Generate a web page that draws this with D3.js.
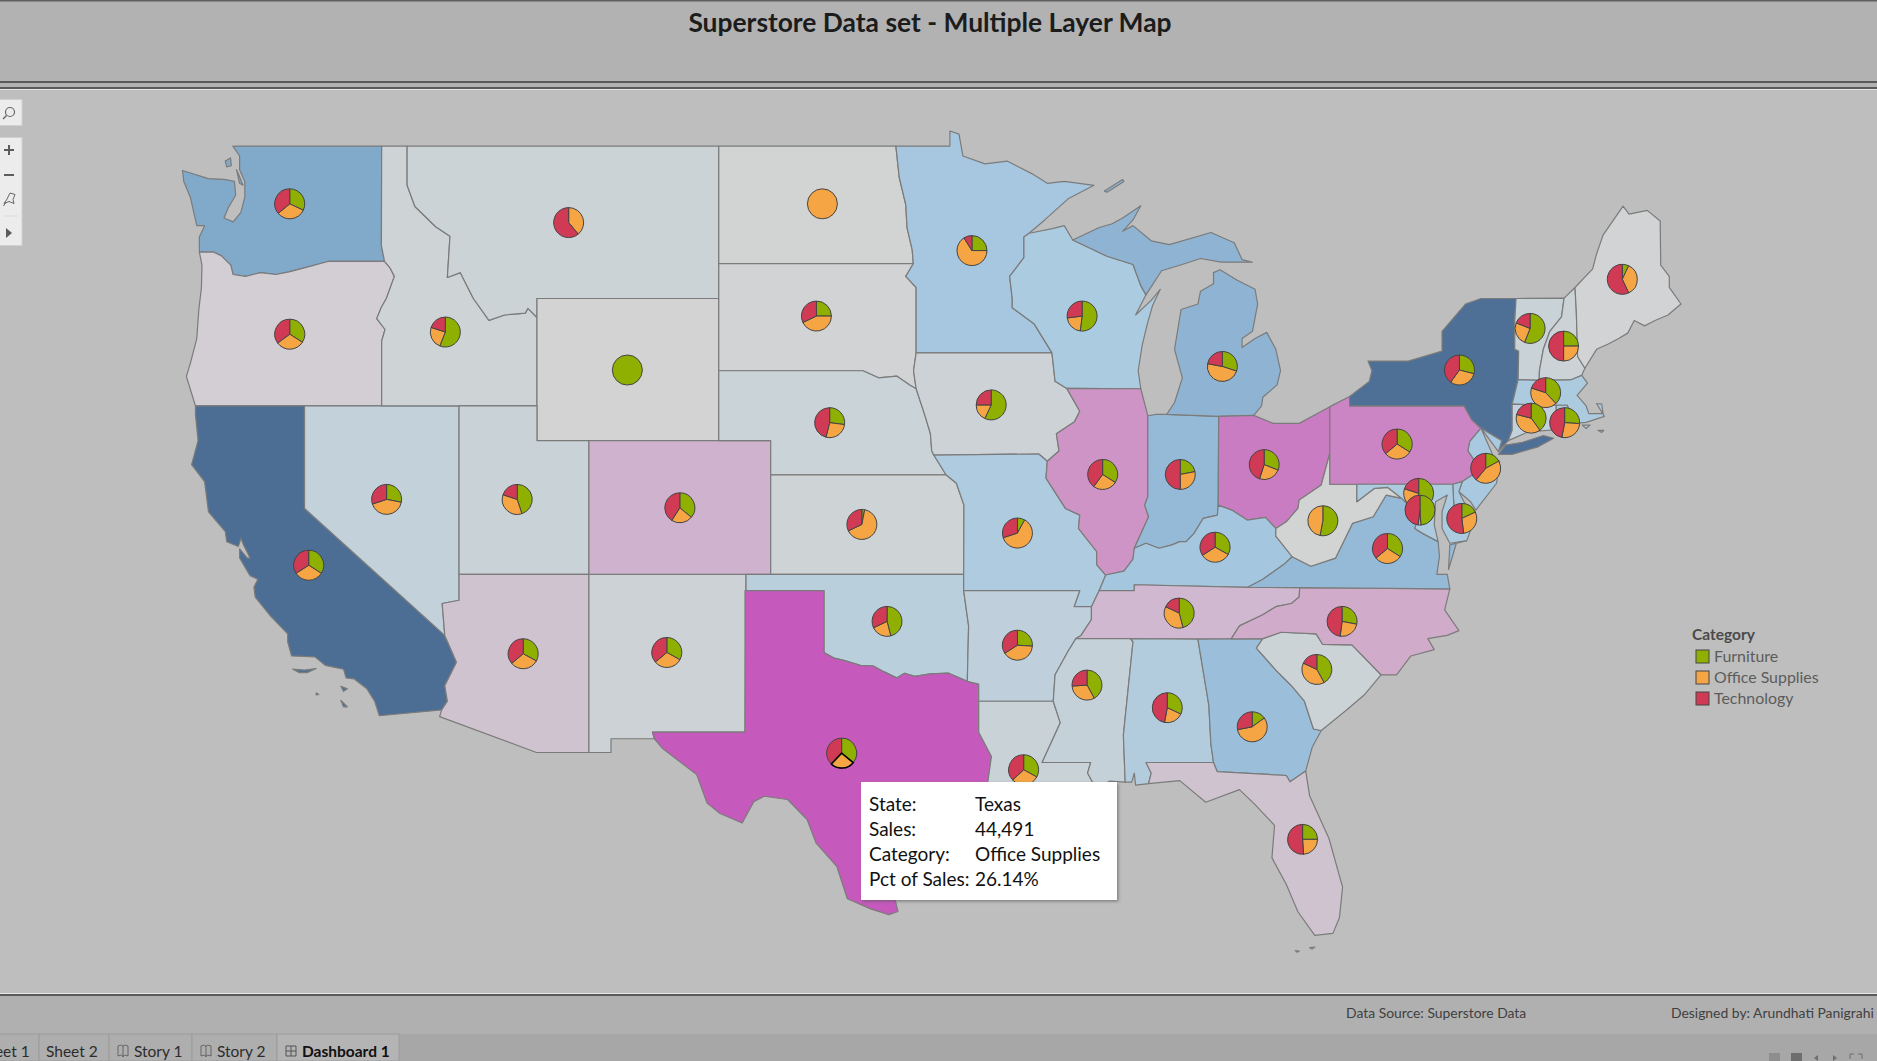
<!DOCTYPE html>
<html>
<head>
<meta charset="utf-8">
<title>Superstore Data set - Multiple Layer Map</title>
<script src="https://cdn.jsdelivr.net/npm/d3@7"></script>
<style>
  html, body { margin: 0; padding: 0; background: #bebebe; overflow: hidden; }
  text { font-family: Lato, "Open Sans", sans-serif; }
</style>
</head>
<body>
<svg id="chart" width="1877" height="1061"></svg>
<script>
const categories = ["Furniture", "Office Supplies", "Technology"];
const categoryColors = ["#8fb000", "#f5a544", "#d13a55"];

// one entry per state, same order in every array. The pies are painted in this order
const stateCodes = ["WA","OR","CA","NV","ID","MT","WY","UT","AZ","NM","CO","ND","SD","NE","KS","OK","TX","MN","IA","MO","AR","LA","WI","IL","IN","MI","OH","KY","TN","MS","AL","GA","FL","SC","NC","VA","WV","PA","NY","VT","NH","ME","MA","CT","RI","NJ","DE","MD","DC"];
const profit = [33403,-1190,76381,3317,827,1834,100,2547,-3428,1157,-6528,230,395,2037,836,4854,-25729,10823,1184,6436,4009,2196,8402,-12608,18383,24463,-16971,11200,-5342,3172,5787,16250,-3399,1769,-7491,18598,186,-15560,74039,2245,1707,454,6786,3511,7286,9772,9977,7031,1059];
const furniture = [32,34,34,28,56,0,100,45,33,33,36,0,25,27,3,46,36,25,57,8,26,33,52,34,22,30,31,33,46,42,32,15,25,42,28,34,53,34,29,56,25,7,38,40,26,17,18,50,49];
const officeSupplies = [32,31,32,42,24,39,0,35,31,31,23,100,43,27,65,22,26,66,18,62,40,30,21,26,28,48,24,33,36,32,21,57,24,40,24,30,47,30,31,25,25,36,42,39,27,44,30,30,3];
const technology = [36,35,34,30,20,61,0,20,36,36,41,0,32,46,32,32,38,9,25,30,34,37,27,40,50,22,45,34,18,26,47,28,51,18,48,36,0,36,40,19,50,57,20,21,47,39,52,20,48];
const pieLon = [-120.57,-120.57,-119.84,-116.84,-114.58,-109.83,-107.57,-111.81,-111.58,-106.05,-105.55,-100.06,-100.29,-99.78,-98.54,-97.57,-99.32,-94.3,-93.56,-92.55,-92.55,-92.31,-90.06,-89.27,-86.28,-84.66,-83.05,-84.94,-86.32,-89.87,-86.78,-83.51,-81.57,-81.02,-80.05,-78.3,-80.79,-77.93,-75.53,-72.81,-71.52,-69.26,-72.21,-72.77,-71.48,-74.52,-75.44,-77.1,-77.05];
const pieLat = [47.52,44.02,37.28,39.27,44.08,47.03,43.02,39.27,34.52,34.56,39.02,47.52,44.52,41.52,38.52,35.54,31.31,46.29,42.03,38.26,34.79,30.76,44.52,40.01,40.01,43.12,40.3,37.83,35.8,33.52,32.79,32.17,28.43,34.02,35.54,37.79,38.63,40.9,43.02,44.18,43.69,45.52,42.38,41.65,41.52,40.19,38.7,39.45,38.95];

// profit colour ramp, stops
const profitStops = [-25729,-16971,-15560,-12608,-7491,-6528,-5342,-3400,-1190,100,836,1157,1834,2547,3317,4009,4854,5787,6436,8402,10823,16250,18383,24463,33403,74039,76381];
const profitColors = ["#c55abc","#ca7cc2","#cc85c4","#ce94c6","#d0acca","#cfb2ce","#d0b9d0","#d0c3d0","#d2ced4","#d3d3d3","#ced3d5","#ccd2d5","#cbd3d7","#c8d2d7","#c3d1da","#bfd0dc","#b9cfdc","#b3ccdd","#aecbdf","#abcbe0","#a6c7df","#9bbfda","#95bad8","#8fb3d2","#80a9ca","#4e7096","#4c6e94"];

// shared borders, lon/lat
const rev = a => [...a].reverse();
const columbia = [[-124.05,46.25],[-123.5,46.25],[-123.2,46.15],[-122.84,45.9],[-122.75,45.65],[-122.27,45.6],[-121.7,45.7],[-121.1,45.65],[-120.6,45.72],[-119.9,45.85],[-119.1,46],[-116.92,46]];
const snake = [[-117.03,43.83],[-116.9,44.15],[-117.22,44.45],[-117.05,44.75],[-116.85,45],[-116.54,45.6],[-116.7,45.82],[-116.92,46]];
const idWa = [[-116.92,46],[-117.04,46.42],[-117.03,49]];
const idMt = [[-116.05,49],[-116.05,48],[-115.75,47.45],[-114.95,46.92],[-114.4,46.67],[-114.5,45.57],[-114,45.7],[-113.5,45],[-112.9,44.4],[-112.3,44.55],[-111.5,44.6],[-111.4,44.73],[-111.05,44.48]];
const redRiver = [[-97.23,49],[-97.1,48.2],[-96.85,47.5],[-96.8,46.9],[-96.6,46.3],[-96.56,45.94]];
const sdMn = [[-96.56,45.94],[-96.85,45.6],[-96.45,45.3],[-96.45,43.5]];
const sdIa = [[-96.45,43.5],[-96.55,43],[-96.45,42.49]];
const sdNe = [[-96.45,42.49],[-96.7,42.6],[-97.2,42.85],[-97.9,42.8],[-98.5,43],[-104.05,43]];
const neIa = [[-96.45,42.49],[-96.1,41.7],[-95.9,41.2],[-95.85,40.7],[-95.77,40.58]];
const neMo = [[-95.77,40.58],[-95.3,40]];
const ksMo = [[-95.3,40],[-94.9,39.75],[-94.61,39.1],[-94.62,37]];
const mnWi = [[-92.1,46.75],[-92.3,46.65],[-92.3,46.1],[-92.85,45.6],[-92.75,45],[-92.75,44.75],[-91.9,44.3],[-91.22,43.5]];
const wiIa = [[-91.22,43.5],[-91.1,42.7],[-90.65,42.5]];
const ilIa = [[-90.65,42.5],[-90.15,41.85],[-90.35,41.55],[-91.05,41.2],[-90.95,40.7],[-91.4,40.4]];
const ilMo = [[-91.4,40.4],[-91.45,39.9],[-90.7,39],[-90.15,38.8],[-90.2,38.4],[-89.5,37.7],[-89.5,37.3],[-89.15,36.98]];
const moKy = [[-89.15,36.98],[-89.4,36.5]];
const moTn = [[-89.4,36.5],[-89.7,36]];
const arTn = [[-89.7,36],[-89.7,35.6],[-90.1,35.1],[-90.3,35]];
const arMs = [[-90.3,35],[-90.6,34.6],[-91.1,33.85],[-91.17,33]];
const laMs = [[-91.17,33],[-90.9,32.3],[-91.6,31],[-89.73,31],[-89.85,30.65],[-89.55,30.18]];
const arMo = [[-94.62,36.5],[-90.15,36.5],[-90.37,36],[-89.7,36]];
const okAr = [[-94.62,36.5],[-94.43,35.4],[-94.48,33.64]];
const redTx = [[-100,34.56],[-99.6,34.38],[-99.2,34.3],[-98.6,34.15],[-98.1,34.13],[-97.7,33.95],[-97.2,33.75],[-96.9,33.9],[-96.5,33.8],[-95.9,33.88],[-95.2,33.9],[-94.48,33.64]];
const txLa = [[-94.04,33],[-94.04,31.99],[-93.55,31.2],[-93.7,30.3],[-93.85,29.7]];
const txAr = [[-94.48,33.64],[-94.04,33.55],[-94.04,33]];
const ohWv = [[-80.52,40.64],[-80.85,39.7],[-81.7,39.25],[-81.75,39],[-82.2,38.6],[-82.6,38.4]];
const ohKy = [[-82.6,38.4],[-83,38.73],[-83.7,38.65],[-84.3,38.95],[-84.82,39.1]];
const inKy = [[-84.82,39.1],[-84.85,38.8],[-85.4,38.7],[-85.75,38.25],[-86.05,38],[-86.3,38],[-86.6,37.9],[-87.1,37.8],[-87.6,37.95],[-88.05,37.8]];
const ilKy = [[-88.05,37.8],[-88.1,37.47],[-88.45,37.1],[-89.15,36.98]];
const ilIn = [[-87.53,41.72],[-87.53,39.35],[-87.65,39.1],[-87.5,38.75],[-88.05,37.8]];
const kyWv = [[-82.6,38.4],[-82.6,38.17],[-81.97,37.54]];
const kyVa = [[-81.97,37.54],[-82.3,37.3],[-83.1,36.85],[-83.68,36.6]];
const kyTn = [[-83.68,36.6],[-88.05,36.68],[-88.05,36.5],[-89.4,36.5]];
const tnNc = [[-81.68,36.59],[-81.7,36.3],[-82,36.1],[-82.6,36],[-83.1,35.75],[-84,35.4],[-84.32,34.99]];
const ncSc = [[-83.1,35],[-82.4,35.2],[-81.05,35.15],[-80.8,34.82],[-79.67,34.8],[-78.55,33.85]];
const gaSc = [[-83.1,35],[-83.35,34.7],[-82.6,34],[-82,33.5],[-81.5,33],[-81.15,32.1],[-80.85,32.05]];
const gaAl = [[-85.6,34.98],[-85.18,32.87],[-85.1,31.6],[-85,31]];
const gaFl = [[-85,31],[-84.86,30.7],[-82.2,30.57],[-82.05,30.36],[-81.45,30.72]];
const alFl = [[-85,31],[-87.6,31],[-87.4,30.65],[-87.5,30.3]];
const alMs = [[-88.2,35],[-88.1,34.9],[-88.47,31.9],[-88.4,30.35]];
const wvVa = [[-77.75,39.3],[-78.35,39.4],[-78.85,38.75],[-79.65,38.55],[-80.3,37.5],[-81.25,37.25],[-81.97,37.54]];
const mdWv = [[-79.48,39.72],[-79.48,39.2],[-78.8,39.6],[-78.3,39.63],[-77.75,39.3]];
const mdVa = [[-77.75,39.3],[-77.5,39.1],[-77.05,38.85],[-77.25,38.4],[-76.95,38.25],[-76.35,38]];
const paNj = [[-75.42,39.8],[-74.72,40.15],[-75.2,40.7],[-75.13,40.98],[-74.7,41.36]];
const nyNj = [[-74.7,41.36],[-73.9,41],[-74.03,40.68]];
const paNy = [[-74.7,41.36],[-75.05,41.6],[-75.35,42],[-79.76,42],[-79.76,42.27]];
const nyVt = [[-73.35,45],[-73.4,44.4],[-73.4,43.6],[-73.25,43.55],[-73.27,42.75]];
const nyMa = [[-73.27,42.75],[-73.5,42.05]];
const nyCt = [[-73.5,42.05],[-73.5,41.3],[-73.65,41]];
const vtNh = [[-71.5,45.01],[-71.6,44.5],[-72.05,44.1],[-72.3,43.6],[-72.45,43],[-72.46,42.73]];
const nhMe = [[-71.08,45.3],[-71.03,44.65],[-70.98,43.4],[-70.7,43.07]];
const miOh = [[-83.45,41.73],[-84.8,41.7]];
const miIn = [[-84.8,41.7],[-86.8,41.76]];
const wiMi = [[-90.42,46.57],[-89.1,46.14],[-88.1,45.92],[-87.8,45.35],[-87.6,45.1]];

const outlines = {
  WA: [[[-122.76,49],[-122.5,48.75],[-122.5,48.4],[-122.3,48.1],[-122.3,47.7],[-122.45,47.3],[-122.75,47.05],[-123.1,47.15],[-122.95,47.4],[-122.65,47.75],[-122.7,48.1],[-123.1,48.15],[-123.7,48.17],[-124.7,48.38],[-124.65,48.1],[-124.4,47.7],[-124.15,46.95],[-123.85,46.95],[-124.05,46.65],...columbia,...idWa],
       [[-123.05,48.62],[-122.85,48.7],[-122.82,48.5],[-123,48.47]],[[-122.62,48.4],[-122.52,48.25],[-122.37,48],[-122.5,48.05]]],
  OR: [[...rev(columbia),[-123.95,45.9],[-123.97,45.3],[-124.07,44.7],[-124.15,43.9],[-124.4,43.2],[-124.55,42.84],[-124.2,42],[-117.03,42],...snake]],
  CA: [[[-124.2,42],[-120,42],[-120,39],[-114.6,35.1],[-114.15,34.25],[-114.6,33.5],[-114.5,33],[-114.72,32.72],[-117.12,32.53],[-117.3,33],[-117.6,33.4],[-118.1,33.72],[-118.4,33.75],[-118.5,34.03],[-119.2,34.15],[-119.6,34.42],[-120.5,34.45],[-120.65,34.9],[-120.65,35.15],[-121.3,35.7],[-121.9,36.3],[-121.95,36.6],[-121.8,36.85],[-122.1,36.96],[-122.5,37.5],[-122.5,37.78],[-122.2,37.5],[-122.1,37.5],[-122.35,37.9],[-122.45,38.1],[-122.55,37.85],[-123,38],[-123.05,38.3],[-123.7,38.9],[-123.85,39.8],[-124.35,40.3],[-124.1,41],[-124.2,41.75]],
       [[-120.45,34.03],[-120,34],[-119.55,34.05],[-119.9,33.92],[-120.2,33.92]],[[-118.6,33.48],[-118.35,33.4],[-118.5,33.32]],[[-118.6,33.03],[-118.35,32.82],[-118.5,32.82]],[[-119.55,33.27],[-119.45,33.22],[-119.55,33.2]]],
  NV: [[[-120,42],[-114.05,42],[-114.05,36.2],[-114.7,36.1],[-114.6,35.1],[-120,39]]],
  ID: [[...snake,...idWa,...idMt,[-111.05,42],[-117.03,42]]],
  MT: [[[-116.05,49],[-104.05,49],[-104.05,45],[-111.05,45],...rev(idMt)]],
  WY: [[[-111.05,45],[-104.05,45],[-104.05,41],[-111.05,41]]],
  UT: [[[-114.05,42],[-111.05,42],[-111.05,41],[-109.05,41],[-109.05,37],[-114.05,37]]],
  AZ: [[[-114.05,37],[-109.05,37],[-109.05,31.33],[-111.07,31.33],[-114.8,32.5],[-114.72,32.72],[-114.5,33],[-114.6,33.5],[-114.15,34.25],[-114.6,35.1],[-114.7,36.1],[-114.05,36.2]]],
  NM: [[[-109.05,37],[-103,37],[-103.04,32],[-106.6,32],[-106.53,31.78],[-108.2,31.78],[-108.2,31.33],[-109.05,31.33]]],
  CO: [[[-109.05,41],[-102.05,41],[-102.05,37],[-109.05,37]]],
  ND: [[[-104.05,49],...redRiver,[-104.05,45.94]]],
  SD: [[[-104.05,45.94],...sdMn,...sdIa,...sdNe]],
  NE: [[[-104.05,43],...rev(sdNe),...neIa,...neMo,[-102.05,40],[-102.05,41],[-104.05,41]]],
  KS: [[[-102.05,40],[-95.3,40],...ksMo,[-102.05,37]]],
  OK: [[[-103,37],[-94.62,37],...okAr,...rev(redTx),[-100,36.5],[-103,36.5]]],
  TX: [[[-103.04,36.5],[-100,36.5],...redTx,...txAr,...txLa,[-94.7,29.4],[-95.1,29.1],[-96.2,28.5],[-97.1,27.8],[-97.4,27.3],[-97.35,26.7],[-97.15,25.96],[-97.5,25.85],[-98.2,26.05],[-99.1,26.4],[-99.5,27.5],[-100.3,28.3],[-100.65,29.1],[-101.4,29.77],[-102.3,29.88],[-102.7,29.7],[-103.15,28.98],[-104,29.3],[-104.5,29.65],[-104.9,30.6],[-106.2,31.45],[-106.53,31.78],[-106.6,32],[-103.04,32]]],
  MN: [[...redRiver.slice(0,1),[-95.15,49],[-95.15,49.38],[-94.8,49.3],[-94.65,48.75],[-93.8,48.55],[-92.95,48.62],[-92,48.3],[-91.4,48.05],[-90.75,48.1],[-89.6,48],[-90.6,47.65],[-91.5,47.1],[-92.1,46.75],...mnWi,[-96.45,43.5],...rev(sdMn),...rev(redRiver)]],
  IA: [[[-96.45,43.5],[-91.22,43.5],...wiIa,...ilIa,[-91.73,40.61],...rev(neIa),...rev(sdIa)]],
  MO: [[[-91.73,40.61],[-95.77,40.58],...neMo,...ksMo,[-94.62,36.5],...arMo,...rev(moTn),...rev(moKy),...rev(ilMo)]],
  AR: [[...arMo,...arTn,...arMs,[-94.04,33],...rev(txAr),...rev(okAr)]],
  LA: [[...txLa.slice(0,1),...laMs,[-89.4,30.05],[-89.4,29.8],[-89.65,29.5],[-89.1,29.05],[-89.45,29.25],[-90.1,29.15],[-90.9,29.05],[-91.8,29.5],[-92.3,29.55],[-93.2,29.77],...rev(txLa)]],
  WI: [[[-92.1,46.75],[-91.2,46.87],[-90.75,46.95],[-90.42,46.57],...wiMi,[-88,44.55],[-87.4,44.95],[-87.05,45.25],[-87.35,44.8],[-87.55,44.3],[-87.75,43.7],[-87.9,43],[-87.8,42.49],[-90.65,42.5],...rev(wiIa),...rev(mnWi)]],
  IL: [[[-90.65,42.5],[-87.8,42.49],[-87.53,41.72],...ilIn,...ilKy,...rev(ilMo),...rev(ilIa)]],
  IN: [[[-87.53,41.72],[-87.2,41.76],[-86.8,41.76],...rev(miIn),[-84.82,39.1],...inKy,...rev(ilIn)]],
  MI: [[[-90.42,46.57],[-89.4,46.9],[-88.9,47],[-88.5,47.15],[-87.8,47.47],[-88.1,47.1],[-88.5,46.8],[-88.1,46.95],[-87.4,46.55],[-86.7,46.45],[-85.1,46.77],[-84.2,46.5],[-83.9,46.05],[-83.5,45.98],[-84.7,45.98],[-85.5,46.08],[-86.3,45.9],[-87,45.75],[-87.6,45.1],...rev(wiMi)],
       [[-84.75,45.78],[-84.1,45.5],[-83.4,45.25],[-83.3,44.85],[-83.5,44.1],[-83.9,43.9],[-83.9,43.65],[-83.4,43.9],[-82.95,44.07],[-82.6,43.6],[-82.42,43],[-82.55,42.6],[-83.1,42.25],[-83.15,42],...miOh,...miIn,[-86.5,42.1],[-86.2,42.8],[-86.5,43.6],[-86.25,44.7],[-85.6,44.85],[-85.5,45.2],[-85,45.4],[-85,45.7]],
       [[-89.2,47.85],[-88.5,48.15],[-88.45,48.1],[-89.1,47.82]]],
  OH: [[[-84.8,41.7],[-83.45,41.73],[-82.7,41.5],[-81.7,41.5],[-80.52,41.98],[-80.52,40.64],...ohWv,...ohKy]],
  KY: [[...ohKy,...inKy,...ilKy,...moKy,...rev(kyTn),...rev(kyVa),...rev(kyWv)]],
  TN: [[[-89.4,36.5],...rev(kyTn),[-81.68,36.59],...tnNc,[-85.6,34.98],[-88.2,35],[-90.3,35],...rev(arTn),[-89.7,36]]],
  MS: [[[-90.3,35],[-88.2,35],...alMs,[-89,30.38],...rev(laMs),...rev(arMs)]],
  AL: [[[-88.2,35],[-85.6,34.98],...gaAl,...alFl,[-88,30.25],[-88.05,30.65],[-88.15,30.35],...rev(alMs)]],
  GA: [[[-85.6,34.98],[-84.32,34.99],[-83.1,35],...gaSc,[-81.2,31.5],...rev(gaFl),...rev(gaAl)]],
  FL: [[...alFl,[-86.3,30.4],[-85.3,29.68],[-84,30.1],[-83.4,29.6],[-82.65,28.9],[-82.75,27.8],[-82.2,26.9],[-81.75,25.95],[-81.1,25.13],[-80.4,25.2],[-80.15,25.75],[-80.03,26.8],[-80.55,28.45],[-81.3,29.9],...rev(gaFl)],
       [[-81.85,24.6],[-81.7,24.58],[-81.78,24.54]],[[-81.3,24.7],[-81.1,24.72],[-81.2,24.65]]],
  SC: [[...ncSc,[-79.2,33.2],[-79.9,32.7],...rev(gaSc)]],
  NC: [[[-84.32,34.99],[-83.1,35],...ncSc,[-77.95,33.85],[-77.4,34.45],[-76.5,34.65],[-76.75,35],[-76,35.1],[-75.55,35.25],[-76.1,35.9],[-75.9,36.55],[-81.68,36.59],...tnNc]],
  VA: [[...mdVa,[-76.3,37.55],[-76.4,37],[-76,37],[-75.9,36.55],[-81.68,36.59],[-83.68,36.6],...rev(kyVa),...rev(wvVa)],
       [[-75.95,37.15],[-75.65,37.95],[-75.25,38.03],[-75.9,37.9]]],
  WV: [[[-80.52,40.64],[-80.52,39.72],[-79.48,39.72],...mdWv.slice(1),...wvVa,...rev(kyWv),...rev(ohWv)]],
  PA: [[[-80.52,41.98],[-79.76,42.27],...rev(paNy),...rev(paNj),[-75.79,39.72],[-80.52,39.72]]],
  NY: [[[-79.76,42],[-79.76,42.27],[-79,42.7],[-78.9,43],[-79.05,43.27],[-77.5,43.27],[-76.2,43.55],[-76.2,44.1],[-75.3,44.85],[-74.7,45],...nyVt,...nyMa,...nyCt,[-73.9,40.8],...rev(nyNj),[-75.05,41.6],[-75.35,42]],
       [[-74.03,40.6],[-73.75,40.87],[-73.1,40.95],[-72.3,41.15],[-71.9,41.07],[-72.5,40.82],[-73.5,40.6]]],
  VT: [[...nyVt,...rev(vtNh)]],
  NH: [[...vtNh,[-71.25,42.74],[-70.82,42.87],...rev(nhMe)]],
  ME: [[...nhMe,[-70.25,43.6],[-69.8,43.75],[-69.4,43.9],[-69.05,44.05],[-68.8,44.4],[-68.4,44.25],[-68,44.4],[-67.5,44.55],[-67,44.85],[-67.45,45.3],[-67.45,45.6],[-67.78,45.9],[-67.8,47.07],[-68.3,47.35],[-69,47.25],[-69.23,47.46],[-70,46.7],[-70.25,46.2],[-70.4,45.8]]],
  MA: [[[-73.5,42.05],[-73.27,42.75],[-72.46,42.73],[-71.25,42.74],[-70.82,42.87],[-70.6,42.65],[-71,42.3],[-70.65,42],[-70.55,41.78],[-70,41.78],[-70.05,42.05],[-70.25,42.07],[-69.95,41.7],[-70.65,41.53],[-71.12,41.5],[-71.38,42.02],[-71.8,42.02]],
       [[-70.8,41.45],[-70.5,41.45],[-70.65,41.35]],[[-70.2,41.3],[-69.97,41.3],[-70.05,41.24]]],
  CT: [[[-73.5,42.05],[-71.8,42.02],[-71.8,41.32],[-72.9,41.25],[-73.65,41],[-73.5,41.3]]],
  RI: [[[-71.8,42.02],[-71.38,42.02],[-71.12,41.5],[-71.8,41.32]]],
  NJ: [[...rev(nyNj),[-74.2,40.5],[-73.98,40.4],[-74.1,39.75],[-74.9,38.95],[-75.1,39.2],[-75.55,39.5],...paNj]],
  DE: [[[-75.79,39.72],[-75.42,39.8],[-75.55,39.5],[-75.1,38.8],[-75.05,38.45],[-75.7,38.46]]],
  MD: [[[-79.48,39.72],[-75.79,39.72],[-75.7,38.46],[-75.05,38.45],[-75.25,38.03],[-75.9,37.95],[-76.2,38.4],[-76.2,38.9],[-76,39.4],[-76.45,39.2],[-76.5,38.5],[-76.35,38],...rev(mdVa),...rev(mdWv)]],
  DC: [[[-77.12,38.93],[-77.04,39],[-76.91,38.89],[-77.04,38.79]]]
};

const W = 1877, H = 1061;
const svg = d3.select("#chart");

// page furniture
svg.append("rect").attr("width", W).attr("height", H).attr("fill", "#bebebe");
svg.append("rect").attr("width", W).attr("height", 81).attr("fill", "#b2b2b2");
svg.append("rect").attr("width", W).attr("height", 1.5).attr("fill", "#5f5f5f");
svg.append("rect").attr("y", 81).attr("width", W).attr("height", 2).attr("fill", "#5a5a5a");
svg.append("rect").attr("y", 83).attr("width", W).attr("height", 4).attr("fill", "#b2b2b2");
svg.append("rect").attr("y", 87).attr("width", W).attr("height", 2).attr("fill", "#5a5a5a");
svg.append("rect").attr("y", 89).attr("width", W).attr("height", 1).attr("fill", "#e4e4e4");
svg.append("rect").attr("y", 993).attr("width", W).attr("height", 1).attr("fill", "#e8e8e8");
svg.append("rect").attr("y", 994).attr("width", W).attr("height", 68).attr("fill", "#b0b0b0");
svg.append("rect").attr("y", 994).attr("width", W).attr("height", 2).attr("fill", "#5a5a5a");
svg.append("rect").attr("y", 1034).attr("width", W).attr("height", 27).attr("fill", "#a7a7a7");

svg.append("text").attr("x", 930).attr("y", 32)
  .attr("text-anchor", "middle").attr("font-size", 26.4).attr("font-weight", 700).attr("fill", "#1c1c1c")
  .text("Superstore Data set - Multiple Layer Map");

// map
const projection = d3.geoMercator().scale(1488).translate([3421, 1610]);
const line = d3.line();
const ringPath = rings => rings.map(r => line(r.map(projection)) + "Z").join("");
const profitColor = d3.scaleLinear().domain(profitStops).range(profitColors).clamp(true);

const rows = stateCodes.map((code, i) => ({
  code,
  profit: profit[i],
  shares: [furniture[i], officeSupplies[i], technology[i]],
  lon: pieLon[i],
  lat: pieLat[i]
}));

svg.append("g").selectAll("path")
  .data(rows)
  .enter()
  .append("path")
  .attr("d", d => ringPath(outlines[d.code]))
  .attr("fill", d => profitColor(d.profit))
  .attr("stroke", "#7b7b7b")
  .attr("stroke-width", 1.2)
  .attr("stroke-linejoin", "round");

const pie = d3.pie().sort(null).value(d => d);
const arc = d3.arc().innerRadius(0).outerRadius(15);

const pies = svg.append("g").selectAll("g")
  .data(rows)
  .enter()
  .append("g")
  .attr("transform", d => `translate(${projection([d.lon, d.lat])})`);

// the hovered Texas Office Supplies slice gets a black edge
const isHovered = d => d.code === "TX" && d.index === 1;
pies.selectAll("path")
  .data(d => pie(d.shares).map((s, i) => ({ ...s, index: i, code: d.code })).filter(s => s.value > 0))
  .enter()
  .append("path")
  .attr("d", arc)
  .attr("fill", d => categoryColors[d.index])
  .attr("stroke", d => isHovered(d) ? "#000" : "#444")
  .attr("stroke-width", d => isHovered(d) ? 1.6 : 1);
pies.selectAll("path").filter(isHovered).raise();

// legend
svg.append("text").attr("x", 1692).attr("y", 640).attr("font-size", 15.5).attr("font-weight", 700).attr("fill", "#4a4a4a").text("Category");
const legend = svg.append("g").selectAll("g")
  .data(categories)
  .enter()
  .append("g")
  .attr("transform", (d, i) => `translate(1696,${650 + i * 21})`);
legend.append("rect").attr("width", 13).attr("height", 13)
  .attr("fill", (d, i) => categoryColors[i]).attr("stroke", "#444").attr("stroke-width", 1);
legend.append("text").attr("x", 18).attr("y", 12).attr("font-size", 15.9).attr("fill", "#5c5c5c").text(d => d);

// footer
svg.append("text").attr("x", 1346).attr("y", 1018).attr("font-size", 13.9).attr("fill", "#404040").text("Data Source: Superstore Data");
svg.append("text").attr("x", 1671).attr("y", 1018).attr("font-size", 13.9).attr("fill", "#404040").text("Designed by: Arundhati Panigrahi");

// tabs
const tabNames = ["Sheet 1", "Sheet 2", "Story 1", "Story 2", "Dashboard 1"];
const tabEnds = [39, 109, 192, 277, 399];
const tabs = svg.append("g").selectAll("g")
  .data(tabNames)
  .enter()
  .append("g");
tabs.append("rect")
  .attr("x", (d, i) => i ? tabEnds[i - 1] : -40)
  .attr("y", 1034)
  .attr("width", (d, i) => tabEnds[i] - (i ? tabEnds[i - 1] : -40))
  .attr("height", 27)
  .attr("fill", (d, i) => i === 4 ? "#b4b4b4" : "#aeaeae")
  .attr("stroke", "#9c9c9c");
tabs.append("text")
  .attr("x", (d, i) => [-22, 46, 134, 217, 302][i])
  .attr("y", 1057)
  .attr("font-size", 15.5)
  .attr("font-weight", (d, i) => i === 4 ? 700 : 400)
  .attr("fill", (d, i) => i === 4 ? "#111" : "#2c2c2c")
  .text(d => d);
// book and grid icons
[118, 201].forEach(x => {
  svg.append("path").attr("d", `M${x} 1046 q5 -2 5 1 q0 -3 5 -1 v10 q-5 -2 -5 1 q0 -3 -5 -1 z M${x + 5} 1047 v10`)
    .attr("fill", "none").attr("stroke", "#666").attr("stroke-width", 1);
});
svg.append("path").attr("d", "M286 1046 h10 v10 h-10 z M291 1046 v10 M286 1051 h10")
  .attr("fill", "none").attr("stroke", "#555").attr("stroke-width", 1);
// status bar icons
[1769, 1791].forEach((x, i) => svg.append("rect").attr("x", x).attr("y", 1053).attr("width", 11).attr("height", 8).attr("fill", i ? "#6e6e6e" : "#8e8e8e"));
svg.append("path").attr("d", "M1818 1055 l-4 3 l4 3 z M1833 1055 l4 3 l-4 3 z").attr("fill", "#6e6e6e");
svg.append("path").attr("d", "M1850 1059 v-5 h4 M1858 1054 h4 v5").attr("fill", "none").attr("stroke", "#6e6e6e");

// map toolbar
const tool = svg.append("g");
tool.append("rect").attr("x", -2).attr("y", 99.5).attr("width", 24).attr("height", 26).attr("fill", "#ececec").attr("stroke", "#d0d0d0");
tool.append("rect").attr("x", -2).attr("y", 137.5).attr("width", 24).attr("height", 108).attr("fill", "#ececec").attr("stroke", "#d0d0d0");
tool.append("circle").attr("cx", 10).attr("cy", 112).attr("r", 4.5).attr("fill", "none").attr("stroke", "#666").attr("stroke-width", 1.2);
tool.append("path").attr("d", "M6.5 115.5 L3 119").attr("stroke", "#666").attr("stroke-width", 1.4);
tool.append("path").attr("d", "M4 150 h10 M9 145 v10 M4 175 h10").attr("stroke", "#5c5c5c").attr("stroke-width", 2);
tool.append("path").attr("d", "M10 193 l5 1.5 l-2 5 l1 4 l-5 -2 l-5 2 l2.5 -3.5 z M6 202 l-2.5 4").attr("fill", "none").attr("stroke", "#666").attr("stroke-width", 1);
tool.append("path").attr("d", "M4 216 h14").attr("stroke", "#dcdcdc");
tool.append("path").attr("d", "M6 228 l6 5 l-6 5 z").attr("fill", "#5c5c5c");

// tooltip for the hovered Texas slice
const tipLabels = ["State:", "Sales:", "Category:", "Pct of Sales:"];
const tipValues = ["Texas", "44,491", "Office Supplies", "26.14%"];
const defs = svg.append("defs");
const shadow = defs.append("filter").attr("id", "tipShadow").attr("x", "-5%").attr("y", "-5%").attr("width", "112%").attr("height", "112%");
shadow.append("feDropShadow").attr("dx", 1.5).attr("dy", 1.5).attr("stdDeviation", 1.5).attr("flood-color", "#555").attr("flood-opacity", 0.6);
const tip = svg.append("g").attr("transform", "translate(861,782)");
tip.append("rect").attr("width", 256).attr("height", 118).attr("fill", "#fff").attr("filter", "url(#tipShadow)");
tipLabels.forEach((t, i) => {
  tip.append("text").attr("x", 8).attr("y", 29 + i * 25.1).attr("font-size", 19).attr("fill", "#111").text(t);
  tip.append("text").attr("x", 114).attr("y", 29 + i * 25.1).attr("font-size", 19).attr("fill", "#111").text(tipValues[i]);
});
</script>
</body>
</html>
